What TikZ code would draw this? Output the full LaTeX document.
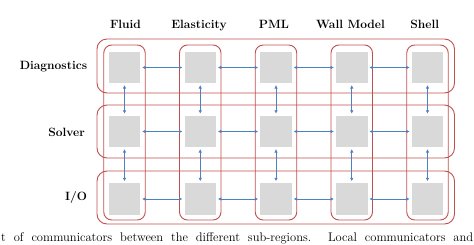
\documentclass[tikz,border=0pt]{standalone}
\usetikzlibrary{arrows.meta}
\definecolor{bandred}{HTML}{C0504D}
\definecolor{arrowblue}{HTML}{4F81BD}
\definecolor{boxgray}{HTML}{D9D9D9}
\tikzset{
  cell/.style={fill=boxgray, draw=none, minimum width=31.5pt, minimum height=31.5pt, inner sep=0pt},
  rowband/.style={draw=bandred, line width=0.9pt, rounded corners=10pt},
  colband/.style={draw=bandred, line width=0.9pt, rounded corners=8pt},
  link/.style={draw=arrowblue, line width=0.9pt,
    {Latex[length=3.5pt,width=3.6pt]}-{Latex[length=3.5pt,width=3.6pt]},
    shorten <=1.6pt, shorten >=1.8pt},
  collabel/.style={font=\fontsize{12}{14}\selectfont\bfseries, anchor=base, inner sep=0pt},
  rowlabel/.style={font=\fontsize{12}{14}\selectfont\bfseries, anchor=base east, inner sep=0pt},
  captext/.style={font=\fontsize{12.5}{14}\selectfont, anchor=base west, inner sep=0pt},
}
\begin{document}
\begin{tikzpicture}[x=1pt,y=-1pt]
  \useasboundingbox (0,0) rectangle (474,244);

  % row bands
  \draw[rowband] (97,39) rectangle (454.5,93);
  \draw[rowband] (97,105) rectangle (454.5,158);
  \draw[rowband] (97,171) rectangle (454.5,224);

  % column bands
  \foreach \x in {124.5,200.25,276,351.75,427.5}
    \draw[colband] (\x-20.75,45) rectangle (\x+20.75,220);

  % cells
  \foreach \r/\y in {1/67.5,2/131.5,3/199}
    \foreach \c/\x in {1/124.5,2/200.25,3/276,4/351.75,5/427.5}
      \node[cell] (c\r\c) at (\x,\y) {};

  % horizontal links
  \foreach \r in {1,2,3}
    \foreach \c/\n in {1/2,2/3,3/4,4/5}
      \draw[link] (c\r\c.east) -- (c\r\n.west);

  % vertical links
  \foreach \c in {1,2,3,4,5}
    \foreach \r/\n in {1/2,2/3}
      \draw[link] (c\r\c.south) -- (c\n\c.north);

  % column labels
  \node[collabel] (lfluid) at (125.5,28.5) {Fluid};
  \node[collabel] (lelast) at (199,28.5) {Elasticity};
  \node[collabel] (lpml) at (274,28.5) {PML};
  \node[collabel] (lwall) at (350.5,28.5) {Wall Model};
  \node[collabel] (lshell) at (424.7,28.5) {Shell};

  % row labels
  \node[rowlabel] (ldiag) at (87.3,69.5) {Diagnostics};
  \node[rowlabel] (lsolver) at (85,136) {Solver};
  \node[rowlabel] (lio) at (87.3,200) {I/O};

  % caption line
  \node[captext] (caption) at (1,241.3)
    {\hbox to 472pt{t of communicators between the different sub-regions. Local communicators and}};
\end{tikzpicture}
\end{document}
